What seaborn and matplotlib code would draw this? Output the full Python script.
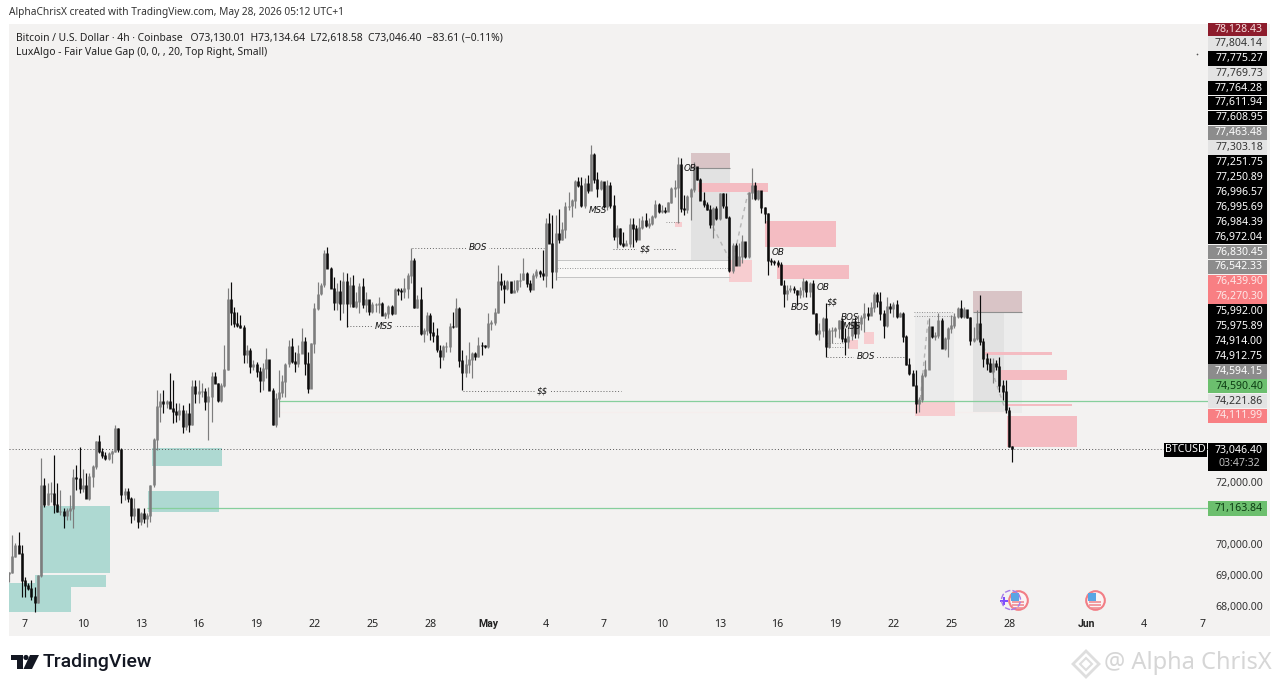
import matplotlib
matplotlib.use("Agg")
import matplotlib.pyplot as plt
from matplotlib.patches import Rectangle, Circle, Polygon
from matplotlib.transforms import IdentityTransform
import numpy as np
import pandas as pd
import seaborn as sns

# 4h candles, open of a bar = close of the bar before
highs = [69100,70280,70010,70390,69960,68940,68730,68830,68620,68990,72750,72100,71940,72000,72850,71940,71730,71140,71140,71570,
         72420,72530,73120,72420,72260,72260,72530,73310,73500,73070,72960,72960,73010,73820,73710,73070,71780,71780,71510,71460,
         71080,71030,71140,70980,71890,73390,74940,74840,74940,74620,75480,75270,74520,74520,74460,74300,74520,75270,75270,75270,
         75160,75000,75050,75530,75530,75160,75160,76390,78210,78430,77620,77460,77350,77030,76390,76280,75910,75850,75690,75800,
         76280,75910,75000,74840,75590,75420,75800,76550,76600,76180,76390,76930,76660,76180,76440,77730,78430,78370,79440,79530,
         78910,78590,78370,78480,78750,78700,78590,78640,78100,78370,78530,78100,77780,77780,77730,77920,77780,77460,77680,77680,
         78210,78210,78210,78530,78700,79500,79180,78000,78270,76930,77460,77430,77140,76930,76390,76390,76500,77090,77460,77890,
         77600,76230,76070,76500,76180,76180,76660,76500,76390,77410,77190,77570,78960,78700,78480,78480,78430,78480,78480,78690,
         79180,78750,78480,78690,78850,78800,79440,80460,80620,80570,80570,80750,80350,81000,81320,81100,81700,81800,81800,81750,
         81860,82820,82550,81960,81700,81530,81700,81640,81210,80250,80140,80030,79770,80460,80460,80250,80460,80540,80620,80460,
         80570,81050,80950,80890,80820,81000,81480,81700,82450,82390,81210,81210,81430,82290,82120,81750,81320,81000,80890,80840,
         80860,81270,81270,81270,80540,79660,79660,79660,79930,79710,81320,82070,81640,81370,81100,80840,80640,79180,79120,79120,
         79070,78480,78320,78320,78290,78160,78270,78530,78480,78430,78480,77410,77090,77300,77730,76930,76980,76980,77190,77250,
         76930,76980,77250,77300,77350,77350,77730,77620,77780,78100,78100,78100,77520,77940,77730,77780,77840,77460,77460,76710,
         75960,75590,75590,74730,75480,75910,77250,76770,76820,77410,77250,76660,76980,77350,77410,77620,77840,77620,77410,77300,
         76980,77520,78000,76600,76120,75960,75960,75910,76010,75260,75260,74410,73134.64]
lows = [68780,69070,69580,69690,68300,68300,68510,68190,67820,68080,68940,71190,71250,71350,70980,71030,70920,70500,70760,70760,
        70520,71730,71620,71680,71460,71410,71840,72420,72910,72750,72690,72690,72590,72960,72960,71300,71410,71350,70660,70760,
        70500,70600,70660,70550,70710,71840,73020,73930,74190,74350,74350,73870,73930,73980,73550,73660,73600,73820,74520,74520,
        74730,74300,73340,73920,75160,74570,74570,75050,75590,77030,76980,76980,76930,75800,75800,75480,75590,75370,74890,74940,
        75320,74940,73820,73760,74080,74730,74730,75690,75800,75530,75690,76120,75420,74840,75000,76120,77520,78000,78270,78860,
        78210,77520,77520,77190,77410,76980,77620,77620,77570,77430,77570,77460,77350,77410,77460,77410,77350,77190,77250,77350,
        77390,78000,77840,77890,77890,78370,77570,77570,76710,76500,76710,76550,76500,76180,75640,75910,76180,76180,76930,76980,
        75690,74940,75370,75480,75320,75910,76020,76070,76280,76280,76870,77030,77430,78160,77730,78160,78050,78100,78100,78270,
        78480,78270,78100,78320,78530,78590,78480,78270,79660,78210,78480,79660,79770,79820,80730,80520,80780,81480,80840,80780,
        81270,81370,81590,81160,81370,80780,80730,80780,79770,79500,79600,79550,79600,79550,79550,79710,80090,80110,80170,80140,
        80250,80460,80620,80620,80620,80730,80950,81160,80300,80680,80570,80620,80410,81320,81700,81050,80840,80730,80140,79820,
        80410,80410,80780,80460,78750,78690,78960,78960,79020,79180,79180,81100,81050,81050,80620,80300,78640,78960,78960,78910,
        78320,77620,77840,78100,78050,77680,77890,77940,77940,77940,77410,76710,76550,76660,76010,76280,76440,76660,76600,76500,
        76070,76280,76550,76600,76600,76870,76820,77190,77410,77460,77620,77190,76600,76980,77410,77300,77250,77300,76500,75750,
        75420,75100,74190,74250,74570,75370,75850,76600,76550,76600,76280,76230,76010,76770,76930,77250,77250,77250,77250,76390,
        76500,76550,76390,75690,75590,75530,75160,75590,74890,74620,74190,73120,72618.58]
closes = [69070,69580,69960,69690,68830,68670,68570,68300,68100,68990,71890,71250,71620,71620,71250,71030,71030,70920,71080,71140,
          72140,72100,71780,71860,71460,72160,72480,73280,72960,72850,72750,72910,72960,73710,73020,71590,71680,71460,70920,71140,
          70710,70980,70820,70920,71890,73340,74410,74570,74520,74570,74350,74250,74140,74300,73770,74190,73820,75050,74840,74890,
          74890,74570,74730,75390,75160,74620,75100,75610,77860,77430,77090,77030,76950,76070,76230,75690,75750,75530,75260,75640,
          75910,74940,73820,74680,74860,75210,75780,76340,75850,75800,76120,76500,75800,75000,76440,77570,78030,78320,79340,78860,
          78210,77750,78100,77730,78430,77730,78320,77620,77780,78270,77680,77840,77460,77680,77680,77730,77350,77410,77640,77410,
          78180,78140,78100,78210,78640,79120,77600,77860,76770,76870,77350,76790,76710,76230,76020,76340,76340,77000,76980,77570,
          75890,75500,75750,75910,76120,76020,76390,76360,76340,77090,77110,77430,78430,78320,78210,78430,78070,78160,78460,78480,
          78690,78370,78160,78640,78750,78690,78640,80300,79660,78750,79980,79770,80090,80840,80860,81050,81640,81530,80890,81590,
          81370,82530,81700,81430,81640,80840,81530,80890,79870,80140,79660,79600,79660,80250,80140,79770,80170,80410,80220,80300,
          80520,80920,80680,80730,80680,80970,81430,81460,82180,80780,80730,81180,81400,82120,81700,81050,80920,80750,80250,80780,
          80460,81250,80860,80490,78780,79600,78960,79250,79710,79230,81290,81530,81100,81350,80820,80620,79120,79070,79040,78990,
          78320,78050,78160,78210,78160,78000,78160,78430,78100,78370,77410,76770,76870,77250,76340,76870,76870,76930,77170,76600,
          76500,76680,77140,76770,77090,77280,77410,77350,77600,78000,77780,77410,77030,77620,77570,77680,77300,77390,76660,75750,
          75480,75100,74510,74640,75420,75590,76980,76660,76710,77190,76280,76600,76920,77030,77300,77570,77320,77520,77280,76550,
          76600,77090,76500,75960,75800,75530,75800,75690,75100,74890,74300,73130,73046.40]

tick_days = ["7","10","13","16","19","22","25","28","May","4","7","10","13","16","19","22","25","28","Jun","4","7"]
tick_bars = [5,23,41,59,77,95,113,131,149,167,185,203,221,239,257,275,293,311,335,353,371]
axis_prices = [68000,69000,70000,72000]

stack_labels = ["78,128.43","77,804.14","77,775.27","77,769.73","77,764.28","77,611.94","77,608.95","77,463.48","77,303.18",
                "77,251.75","77,250.89","76,996.57","76,995.69","76,984.39","76,972.04","76,830.45","76,542.33","76,439.90",
                "76,270.30","75,992.00","75,975.89","74,914.00","74,912.75","74,594.15","74,590.40","74,221.86","74,111.99"]
stack_kinds = ["red","pale","black","pale","black","black","black","grey","pale","black","black","black","black","black","black",
               "grey","grey","pink","pink","black","black","black","black","grey","green","pale","pink"]

last_price = 73046.40
green_levels = [74590.40, 71163.84]
green_starts = [84, 43]
faint_level = 74245

# fair value gaps: first bar, last bar, low, high
teal_gaps = [(9.7,31.4,69060,71215),(8.1,30.1,68610,68997),(0,19.3,67820,68740),(44.4,66.2,72500,73080),(43.2,65.3,71020,71700)]
pink_gaps = [(235,257.3,79540,80380),(238.9,261.2,78510,78960),(214.3,236,81310,81600),(223.8,231.2,78420,79120),
             (207,209.2,80185,80345),(281.7,294.1,74110,74590),(310.3,332.1,73110,74110),(308.4,329,75265,75590),
             (303.5,324.4,76070,76165),(310.5,330.6,74445,74480),(260.9,263.9,76265,76550),(265.9,269,76425,76810)]
# long position tools
box_tops = [(212.1,224.2,82080,82565),(299.7,315,77450,78125)]
box_bodies = [(212.1,224.2,79125,82080),(224.2,231.2,79125,81600),(299.7,309.5,74205,77450),(309.5,315,74205,77450),(281.7,293.8,74560,77450)]
body_colors = ["#e2e2e2","#ebebeb","#e2e2e2","#ececec","#ebebeb"]
range_box = (170.3,224.2,78577,79124)

# dotted structure levels: first bar, last bar, price, text
struct_levels = [(125.3,166.3,79510,"BOS"),(105.2,127.9,77000,"MSS"),(141.3,190.4,74912,"$$"),(187.8,207.8,79480,"$$"),(254.4,278.4,76005,"BOS")]
struct_tags = [(183,80700,"MSS"),(211.8,82080,"OB"),(239.1,79350,"OB"),(253.1,78225,"OB"),(245.9,77610,"BOS"),(255.9,77775,"$$"),
               (261.4,77260,"BOS"),(262.1,77000,"MSS")]
small_levels = [(281.4,293.4,77450),(281.4,293.4,77320),(254.4,259.4,76340),(254.4,259.4,76470),(204.4,208.4,80340)]
dash_paths = [(218.9,80185,224.2,79125),(225.2,79125,229.8,81280),(283.4,74650,285.9,77320),(301.4,76850,310.2,74200)]
event_bars = [313.7, 337.7]
event_price = 68190

# pixel layout of the screenshot
W, H = 1280, 689
PX_LEFT, PX_RIGHT, PX_TOP, PX_BOTTOM = 9, 1208, 24, 636
X_END = 372.85

sns.set_theme(style="white")
plt.rcParams["font.family"] = ["Noto Sans", "DejaVu Sans"]
plt.rcParams["lines.solid_capstyle"] = "butt"

fig = plt.figure(figsize=(W / 100, H / 100), dpi=100, facecolor="white")
ax = fig.add_axes([PX_LEFT / W, 1 - PX_BOTTOM / H, (PX_RIGHT - PX_LEFT) / W, (PX_BOTTOM - PX_TOP) / H])
ax.patch.set_alpha(0)
ax.set_zorder(2)


def fx(x):
    return x / W


def fy(y):
    return 1 - y / H


def pts(points):
    # screenshot pixels (y down) to figure pixels
    return [(x, H - y) for x, y in points]


# panel behind everything
fig.patches.append(Rectangle((fx(9), fy(636)), fx(1261), (636 - 24) / H, transform=fig.transFigure, fc="#f3f2f1", ec="none", zorder=-5))

closes_arr = np.array(closes)
opens_arr = np.r_[69050, closes_arr[:-1]]
bars = np.arange(len(closes))
direction = np.where(closes_arr >= opens_arr, "up", "down")
body_top = np.maximum(opens_arr, closes_arr) + 15
body_bot = np.minimum(opens_arr, closes_arr) - 15

wick_df = pd.DataFrame({"bar": np.r_[bars, bars], "price": np.r_[highs, lows], "dir": np.r_[direction, direction]})
body_df = pd.DataFrame({"bar": np.r_[bars, bars], "price": np.r_[body_top, body_bot], "dir": np.r_[direction, direction]})
palette = {"up": "#7d7d7d", "down": "#0b0b0b"}

sns.lineplot(data=wick_df, x="bar", y="price", hue="dir", units="bar", estimator=None, palette=palette, sort=False,
             legend=False, linewidth=0.85, zorder=4, ax=ax)
sns.lineplot(data=body_df, x="bar", y="price", hue="dir", units="bar", estimator=None, palette=palette, sort=False,
             legend=False, linewidth=1.85, zorder=4, ax=ax)


def zone(box, color, z=2, alpha=1):
    ax.add_patch(Rectangle((box[0], box[2]), box[1] - box[0], box[3] - box[2], fc=color, ec="none", zorder=z, alpha=alpha))


for box, col in zip(box_bodies, body_colors):
    zone(box, col, z=1)
for box in box_tops:
    zone(box, "#d9c4c6", z=1.5)
    ax.plot(box[:2], [box[2], box[2]], color="#8f8f8f", lw=0.8, zorder=2)
for box in teal_gaps:
    zone(box, "#aed9d2")
for k, box in enumerate(pink_gaps):
    zone(box, "#f4bcc2" if k not in (3, 4, 5, 10, 11) else "#f7cdd0")

zone(range_box, "#f8f7f6", z=1.2)
ax.plot(range_box[:2], [range_box[2]] * 2, color="#c4c4c4", lw=0.7, zorder=2)
ax.plot(range_box[:2], [range_box[3]] * 2, color="#c4c4c4", lw=0.7, zorder=2)
ax.plot(range_box[:2], [np.mean(range_box[2:])] * 2, color="#777777", lw=0.6, ls=(0, (1, 2)), zorder=2)

for level, start in zip(green_levels, green_starts):
    ax.plot([start, X_END], [level, level], color="#86cf9c", lw=0.9, zorder=3)
ax.plot([84, 310], [faint_level, faint_level], color="#f5eeed", lw=0.8, zorder=1.5)
ax.axhline(last_price, color="#555555", lw=0.7, ls=(0, (1, 2.2)), zorder=3)

for x0, x1, price, tag in struct_levels:
    ax.plot([x0, x1], [price, price], color="#666666", lw=0.7, ls=(0, (1, 2)), zorder=3)
    ax.text((x0 + x1) / 2, price, tag, fontsize=6.3, style="italic", color="#111111", ha="center", va="center", zorder=5,
            bbox=dict(fc="#f3f2f1", ec="none", pad=1.5), parse_math=False, family="DejaVu Sans")
for x0, price, tag in struct_tags:
    ax.text(x0, price, tag, fontsize=6.3, style="italic", color="#111111", ha="center", va="center", zorder=5, parse_math=False,
            family="DejaVu Sans")
for x0, x1, price in small_levels:
    ax.plot([x0, x1], [price, price], color="#777777", lw=0.6, ls=(0, (1, 2)), zorder=3)
for x0, p0, x1, p1 in dash_paths:
    ax.plot([x0, x1], [p0, p1], color="#b5b5b5", lw=1.0, ls=(0, (3, 3)), zorder=3)

# event flags
fig.patches.append(Circle((1011, H - 600), 9.5, transform=IdentityTransform(), fc="none", ec="#a77ce8", lw=1.0, ls=(0, (4, 1.5)), zorder=3))
ax.scatter(event_bars, [event_price] * 2, s=180, c="#fbf4f4", edgecolors="#f27d85", linewidths=1.5, zorder=5)
for shift in (-60, -160, -260):
    ax.scatter(event_bars, [event_price + shift] * 2, s=70, c="#ef8c92", marker="_", linewidths=1.2, zorder=6)
ax.scatter(np.array(event_bars) - 1.0, [event_price + 100] * 2, s=28, c="#5aa5e3", marker="s", linewidths=0, zorder=7)
ax.scatter([309.3], [event_price - 30], s=30, c="#7c4dff", marker="P", linewidths=0, zorder=5)

ax.set_xlim(0.025, X_END)
ax.set_ylim(67035, 86711)
ax.set_xticks(tick_bars)
ax.set_xticklabels(tick_days)
ax.set_yticks(axis_prices)
ax.set_yticklabels([f"{p:,.2f}" for p in axis_prices])
ax.yaxis.tick_right()
ax.tick_params(axis="x", length=0, pad=-12.5, labelsize=7.6, labelcolor="#222222")
ax.tick_params(axis="y", length=0, pad=5.5, labelsize=7.6, labelcolor="#333333")
for lab in ax.get_xticklabels():
    if lab.get_text() in ("May", "Jun"):
        lab.set_family("Roboto")
        lab.set_fontweight("bold")
ax.set_xlabel("")
ax.set_ylabel("")
sns.despine(ax=ax, left=True, bottom=True, right=True, top=True)

# stacked price labels on the right
kind_colors = {"black": ("#000000", "white"), "pale": ("#e3e3e3", "#333333"), "grey": ("#8c8c8c", "white"),
               "pink": ("#f87f83", "#fde8e8"), "red": ("#8d1c2c", "#f5dcdc"), "green": ("#6cbf6e", "#0c3c12")}


def price_tag(y0, y1, text, kind, x0=1208, x1=1267):
    bg, fg = kind_colors[kind]
    fig.patches.append(Rectangle((fx(x0), fy(y1)), (x1 - x0) / W, (y1 - y0) / H, transform=fig.transFigure, fc=bg, ec="none", zorder=5))
    fig.text(fx((x0 + x1) / 2 + 1.5), fy((y0 + y1) / 2), text, color=fg, fontsize=7.6, ha="center", va="center", zorder=6)


for k, (lab, kind) in enumerate(zip(stack_labels, stack_kinds)):
    yc = 28.5 + 14.9 * k
    price_tag(max(yc - 7.3, 23), yc + 7.3, lab, kind)

price_tag(443, 457, "73,046.40", "black")
price_tag(457, 471, "03:47:32", "black")
fig.texts[-1].set_color("#bdbdbd")
price_tag(443, 457, "BTCUSD", "black", x0=1164, x1=1207)
fig.texts[-1].set_x(fx(1185.5))
price_tag(501, 516, "71,163.84", "green")

# header and footer texts
fig.text(fx(9), fy(13), "AlphaChrisX created with TradingView.com, May 28, 2026 05:12 UTC+1", fontsize=7.3, color="#333333", va="center")
fig.text(fx(16), fy(38), "Bitcoin / U.S. Dollar · 4h · Coinbase   O73,130.01  H73,134.64  L72,618.58  C73,046.40  −83.61 (−0.11%)",
         fontsize=7.45, color="#222222", va="center")
fig.text(fx(16), fy(52.5), "LuxAlgo - Fair Value Gap (0, 0, , 20, Top Right, Small)", fontsize=7.45, color="#222222", va="center")
ax.scatter([369.5], [85740], s=1.5, c="#555555", linewidths=0, zorder=5)

fig.text(fx(43), fy(662), "TradingView", fontsize=14, fontweight="medium", family="Roboto", color="#131722", va="center")
logo = "#131722"
fig.patches.append(Polygon(pts([(11, 655), (23, 655), (23, 669), (17, 669), (17, 660), (11, 660)]), transform=IdentityTransform(), fc=logo, ec="none"))
fig.patches.append(Polygon(pts([(30, 655), (39, 655), (32, 669), (23.5, 669)]), transform=IdentityTransform(), fc=logo, ec="none"))
fig.patches.append(Circle((26, H - 657.5), 2.6, transform=IdentityTransform(), fc=logo, ec="none"))

fig.text(fx(1272), fy(663), "@ Alpha ChrisX", fontsize=17, color="#d6d6d6", ha="right", va="center")
for r, lw in ((13, 2), (6, 1.5)):
    fig.patches.append(Polygon(pts([(1086, 664 - r), (1086 + r, 664), (1086, 664 + r), (1086 - r, 664)]), transform=IdentityTransform(),
                               fc="none", ec="#dedede", lw=lw))

fig.savefig("out.png", dpi=100, facecolor="white")
